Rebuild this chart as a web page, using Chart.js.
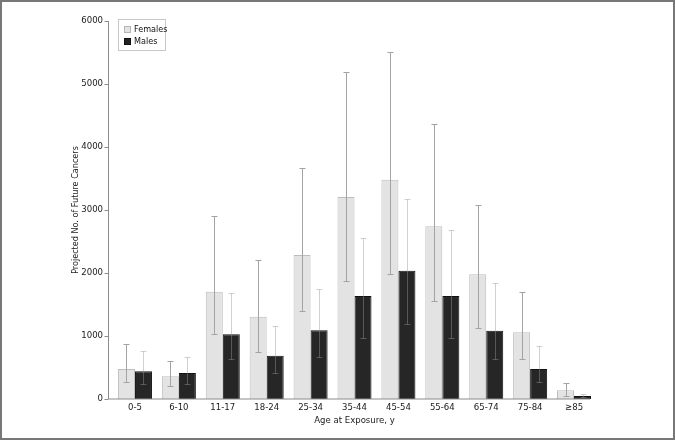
<!DOCTYPE html>
<html lang="en">
<head>
  <meta charset="UTF-8" />
  <title>Projected Future Cancers by Age at Exposure</title>
  <script src="https://cdn.jsdelivr.net/npm/chart.js"></script>
  <style>
    body {
      margin: 0;
      background: #fff;
      font-family: 'Liberation Sans Narrow', 'DejaVu Sans Condensed', 'Arial Narrow', 'Liberation Sans', Arial, sans-serif;
    }
    #wrap {
      position: relative;
      width: 675px;
      height: 440px;
    }
    #legend {
      position: absolute;
      left: 118px;
      top: 19px;
      width: 46px;
      height: 30px;
      border: 1px solid #c8c8c8;
      background: #fff;
      font-size: 9px;
      color: #111;
    }
    .item {
      position: absolute;
      left: 5px;
      line-height: 12px;
      white-space: nowrap;
    }
    .swatch {
      display: inline-block;
      width: 7px;
      height: 7px;
      margin-right: 3px;
      vertical-align: -1px;
      box-sizing: border-box;
    }
  </style>
</head>
<body>
  <div id="wrap">
    <canvas id="chart" width="675" height="440"></canvas>
    <div id="legend">
      <div class="item" style="top:3px"><span class="swatch" style="background:#e3e3e3;border:1px solid #b5b5b5"></span>Females</div>
      <div class="item" style="top:15px"><span class="swatch" style="background:#222;border:1px solid #111"></span>Males</div>
    </div>
  </div>

<script>
  // values
  const categories = ['0-5', '6-10', '11-17', '18-24', '25-34', '35-44', '45-54', '55-64', '65-74', '75-84', '≥85'];
  const females     = [476, 360, 1704, 1307, 2286, 3206, 3481, 2741, 1979, 1058, 138];
  const femalesLow  = [265, 201, 1026, 751, 1397, 1878, 1979, 1550, 1122, 630, 53];
  const femalesHigh = [878, 603, 2899, 2201, 3667, 5196, 5508, 4365, 3085, 1704, 259];
  const males       = [440, 413, 1026, 688, 1090, 1635, 2037, 1635, 1085, 476, 48];
  const malesLow    = [233, 233, 630, 413, 661, 973, 1185, 973, 630, 265, 30];
  const malesHigh   = [757, 661, 1677, 1153, 1741, 2561, 3175, 2683, 1836, 841, 80];
  const yTicks      = [0, 1000, 2000, 3000, 4000, 5000, 6000];

  const fontFamily = "'Liberation Sans Narrow', 'DejaVu Sans Condensed', 'Arial Narrow', 'Liberation Sans', Arial, sans-serif";

  // frame, axis lines and tick marks (axis sits 5px left of the first bar group)
  const framePlugin = {
    id: 'frame',
    beforeDraw(chart) {
      const ctx = chart.ctx;
      ctx.save();
      ctx.fillStyle = '#fff';
      ctx.fillRect(0, 0, chart.width, chart.height);
      ctx.strokeStyle = '#777';
      ctx.lineWidth = 2;
      ctx.strokeRect(1, 1, chart.width - 2, chart.height - 2);
      ctx.restore();
    },
    afterDraw(chart) {
      const ctx = chart.ctx;
      const y = chart.scales.y;
      const area = chart.chartArea;
      const ax = Math.round(area.left - 5) + 0.5;
      ctx.save();
      ctx.strokeStyle = '#8c8c8c';
      ctx.lineWidth = 1;
      ctx.beginPath();
      ctx.moveTo(ax, y.getPixelForValue(6000));
      ctx.lineTo(ax, y.getPixelForValue(0));
      ctx.lineTo(area.right - 6, y.getPixelForValue(0));
      yTicks.forEach(v => {
        const py = Math.round(y.getPixelForValue(v)) + 0.5;
        ctx.moveTo(ax - 4, py);
        ctx.lineTo(ax, py);
      });
      ctx.stroke();
      ctx.restore();
    }
  };

  const errorBarPlugin = {
    id: 'errorBars',
    afterDatasetsDraw(chart) {
      const ctx = chart.ctx;
      const y = chart.scales.y;
      const ranges = [[femalesLow, femalesHigh], [malesLow, malesHigh]];
      const colors = ['#a3a3a3', 'rgba(150,150,150,0.45)'];
      ctx.save();
      ctx.lineWidth = 1;
      chart.data.datasets.forEach((ds, di) => {
        const meta = chart.getDatasetMeta(di);
        ctx.strokeStyle = colors[di];
        meta.data.forEach((bar, i) => {
          const x = Math.round(bar.x) + 0.5;
          const lo = Math.round(y.getPixelForValue(ranges[di][0][i])) + 0.5;
          const hi = Math.round(y.getPixelForValue(ranges[di][1][i])) + 0.5;
          ctx.beginPath();
          ctx.moveTo(x, lo);
          ctx.lineTo(x, hi);
          ctx.moveTo(x - 3, lo);
          ctx.lineTo(x + 3, lo);
          ctx.moveTo(x - 3, hi);
          ctx.lineTo(x + 3, hi);
          ctx.stroke();
        });
      });
      ctx.restore();
    }
  };

  new Chart(document.getElementById('chart'), {
    type: 'bar',
    data: {
      labels: categories,
      datasets: [
        {
          label: 'Females',
          data: females,
          backgroundColor: '#e3e3e3',
          borderColor: '#bdbdbd',
          borderWidth: 1
        },
        {
          label: 'Males',
          data: males,
          backgroundColor: '#262626',
          borderColor: '#111',
          borderWidth: 1
        }
      ]
    },
    options: {
      responsive: false,
      animation: false,
      layout: { padding: { left: 0, right: 79, top: 21, bottom: 0 } },
      categoryPercentage: 0.775,
      barPercentage: 1.0,
      plugins: {
        legend: { display: false },
        tooltip: { enabled: false }
      },
      scales: {
        x: {
          grid: { display: false, drawTicks: false },
          border: { display: false },
          ticks: { color: '#1a1a1a', padding: 3, font: { family: fontFamily, size: 9.5 } },
          title: {
            display: true,
            text: 'Age at Exposure, y',
            color: '#1a1a1a',
            padding: { top: 0, bottom: 14 },
            font: { family: fontFamily, size: 9.5 }
          },
          afterFit(scale) { scale.height = 41; }
        },
        y: {
          min: 0,
          max: 6000,
          grid: { display: false, drawTicks: false },
          border: { display: false },
          ticks: {
            stepSize: 1000,
            color: '#1a1a1a',
            padding: 10,
            font: { family: fontFamily, size: 9.5 },
            callback: v => String(v)
          },
          title: {
            display: true,
            text: 'Projected No. of Future Cancers',
            color: '#1a1a1a',
            padding: { top: 70, bottom: 0 },
            font: { family: fontFamily, size: 9 }
          },
          afterFit(scale) { scale.width = 113; }
        }
      }
    },
    plugins: [framePlugin, errorBarPlugin]
  });
</script>
</body>
</html>
